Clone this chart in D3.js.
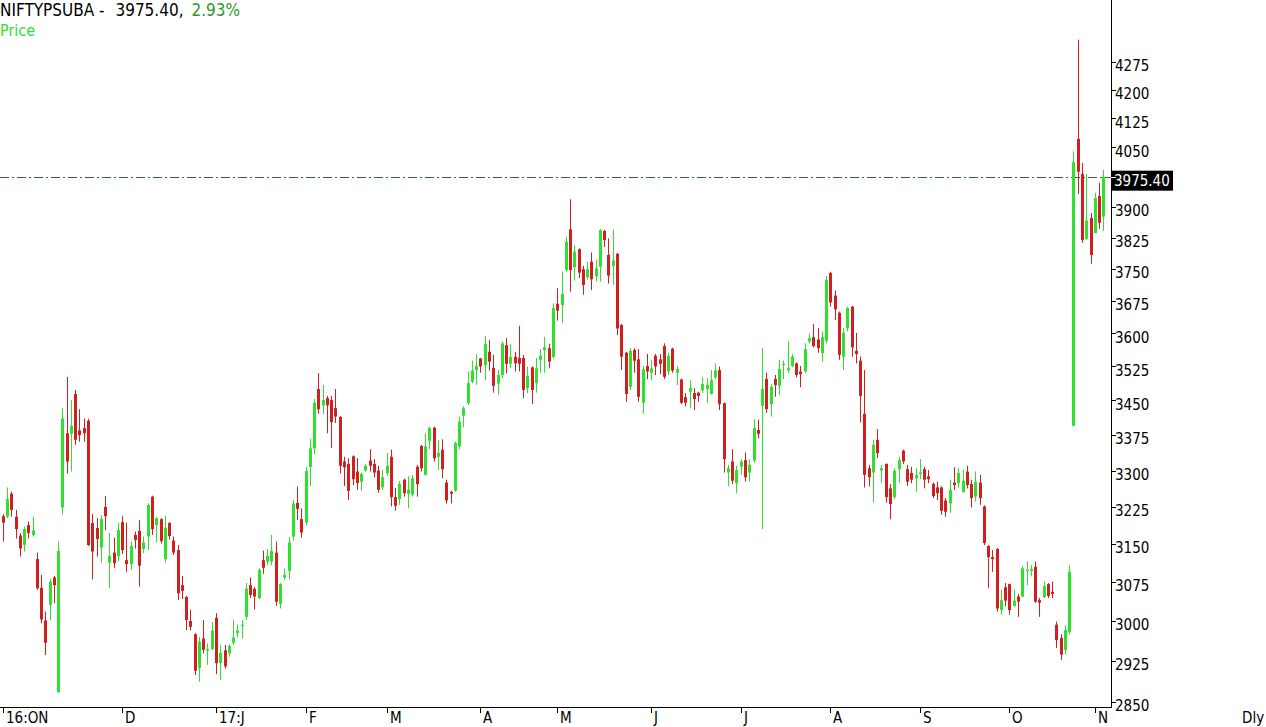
<!DOCTYPE html>
<html>
<head>
<meta charset="utf-8">
<script src="https://cdn.jsdelivr.net/npm/d3@7"></script>
<style>
  body { margin: 0; background: #fff; }
  svg { display: block; }
  text { font-family: "DejaVu Sans Condensed", "DejaVu Sans", sans-serif; }
</style>
</head>
<body>
<svg id="chart" width="1266" height="727"></svg>
<script>
// daily candles, NIFTYPSUBA, 21 Oct 2016 .. 3 Nov 2017
let opens = [3206,3205,3252,3205,3167,3148,3188,3168,3120,3064,3001,3031,3084,2868,3224,3379,3378,3464,3385,3390,
  3406,3192,3182,3143,3225,3113,3133,3126,3194,3118,3110,3168,3176,3140,3165,3246,3188,3200,3120,3192,
  3157,3138,3069,3046,3000,2975,2912,2967,2944,2947,3006,2921,2945,2939,2959,2977,2991,3008,3069,3062,
  3044,3118,3115,3115,3133,3033,3084,3097,3165,3233,3200,3193,3308,3347,3475,3439,3455,3451,3433,3414,
  3319,3314,3330,3298,3277,3300,3321,3314,3300,3265,3295,3329,3245,3241,3281,3252,3250,3308,3352,3291,
  3363,3391,3329,3344,3275,3256,3258,3351,3417,3444,3491,3517,3543,3528,3558,3522,3487,3506,3573,3531,
  3547,3544,3544,3477,3523,3488,3540,3562,3566,3546,3668,3665,3747,3845,3754,3797,3749,3730,3767,3732,
  3755,3841,3783,3757,3786,3619,3556,3480,3562,3541,3445,3526,3511,3549,3541,3571,3514,3565,3511,3496,
  3457,3469,3466,3467,3472,3475,3464,3501,3517,3444,3296,3319,3274,3308,3322,3296,3321,3386,3438,3497,
  3442,3497,3482,3528,3516,3526,3532,3514,3514,3581,3591,3586,3555,3583,3740,3687,3647,3547,3611,3661,
  3560,3538,3421,3305,3296,3365,3300,3314,3263,3245,3303,3342,3303,3295,3284,3293,3303,3288,3272,3265,
  3265,3238,3232,3275,3274,3256,3298,3272,3246,3275,3226,3146,3124,3140,3021,3065,3071,3029,3047,3047,
  3097,3097,3105,3040,3046,3071,3056,2993,2968,2945,2979,3395,4072,3982,3822,3873,3836,3927,3876];

let highs = [3210,3265,3256,3219,3172,3185,3195,3205,3133,3089,3018,3082,3087,3155,3433,3502,3451,3473,3431,3411,
  3410,3211,3202,3208,3247,3172,3163,3193,3206,3193,3155,3175,3198,3165,3232,3248,3204,3202,3207,3194,
  3165,3148,3087,3048,3022,2977,2970,3002,2958,2998,3015,2955,2955,2956,3003,2994,3002,3073,3084,3065,
  3102,3137,3140,3168,3155,3073,3102,3164,3239,3267,3222,3308,3367,3453,3510,3484,3460,3460,3475,3416,
  3329,3326,3332,3326,3296,3314,3345,3324,3310,3301,3337,3344,3264,3278,3283,3288,3291,3312,3354,3379,
  3393,3393,3365,3366,3281,3258,3361,3415,3437,3514,3538,3553,3544,3594,3585,3551,3517,3581,3589,3576,
  3558,3617,3551,3525,3525,3544,3564,3592,3576,3669,3704,3743,3827,3919,3807,3799,3757,3767,3789,3771,
  3845,3843,3823,3844,3788,3621,3558,3566,3566,3564,3526,3553,3540,3553,3553,3577,3556,3567,3526,3498,
  3466,3494,3477,3469,3501,3499,3517,3532,3525,3445,3312,3345,3310,3324,3338,3324,3409,3408,3566,3511,
  3486,3506,3540,3538,3581,3553,3534,3526,3577,3599,3621,3612,3604,3733,3743,3699,3650,3612,3661,3663,
  3601,3547,3517,3312,3365,3388,3312,3315,3272,3305,3329,3344,3312,3308,3305,3324,3308,3301,3275,3277,
  3267,3243,3281,3307,3305,3303,3310,3281,3298,3291,3228,3148,3138,3142,3060,3073,3072,3060,3052,3106,
  3115,3108,3115,3044,3076,3073,3076,2999,2975,2992,3108,4040,4336,4010,3982,3885,3935,3960,3993];

let lows = [3155,3202,3205,3161,3125,3135,3161,3165,3060,2996,2936,3002,3034,2866,3209,3294,3298,3354,3361,3361,
  3146,3080,3125,3113,3178,3064,3102,3116,3130,3095,3099,3141,3066,3132,3138,3168,3153,3151,3113,3159,
  3128,3040,3042,2983,2982,2899,2887,2939,2918,2945,2901,2890,2911,2933,2955,2969,2967,3002,3044,3022,
  3042,3091,3108,3108,3029,3024,3079,3080,3157,3198,3163,3187,3268,3335,3421,3420,3379,3348,3401,3294,
  3268,3239,3270,3260,3258,3298,3298,3286,3254,3260,3289,3226,3217,3229,3246,3222,3246,3246,3298,3290,
  3345,3319,3301,3284,3232,3232,3256,3345,3392,3440,3488,3484,3511,3495,3516,3467,3462,3499,3510,3521,
  3514,3514,3455,3466,3442,3467,3511,3511,3521,3543,3629,3623,3743,3696,3722,3728,3689,3724,3700,3720,
  3720,3802,3715,3712,3596,3517,3447,3473,3511,3447,3421,3497,3494,3506,3508,3497,3506,3511,3484,3442,
  3437,3433,3429,3447,3466,3445,3463,3497,3429,3296,3267,3272,3253,3291,3277,3277,3317,3368,3180,3423,
  3415,3458,3462,3497,3510,3523,3501,3479,3511,3577,3568,3556,3536,3577,3661,3630,3540,3517,3604,3547,
  3532,3402,3265,3267,3234,3326,3274,3234,3200,3241,3274,3314,3268,3274,3256,3282,3263,3274,3243,3239,
  3209,3205,3213,3260,3265,3254,3263,3224,3236,3229,3148,3063,3095,3018,3012,3028,3012,3027,3008,3046,
  3069,3086,3035,3008,3044,3044,3044,2949,2927,2937,2975,3395,3932,3812,3819,3762,3841,3846,3841];

let closes = [3193,3241,3219,3180,3141,3180,3172,3177,3063,3003,2959,3076,3069,3136,3411,3319,3395,3365,3375,3379,
  3148,3135,3160,3200,3206,3126,3112,3178,3138,3110,3146,3158,3107,3153,3229,3180,3202,3156,3183,3166,
  3133,3053,3058,3002,2989,2907,2961,2946,2947,2982,2921,2940,2915,2953,2969,2982,2993,3062,3050,3047,
  3099,3103,3126,3136,3037,3071,3089,3153,3232,3221,3173,3299,3347,3445,3431,3451,3439,3403,3415,3310,
  3307,3258,3282,3274,3293,3310,3310,3296,3260,3286,3310,3245,3227,3272,3253,3260,3284,3272,3305,3351,
  3390,3326,3337,3303,3238,3252,3358,3404,3433,3488,3516,3526,3525,3576,3536,3482,3506,3577,3531,3546,
  3532,3531,3473,3504,3473,3521,3549,3568,3536,3658,3652,3691,3815,3747,3791,3741,3712,3749,3725,3751,
  3843,3819,3734,3770,3611,3547,3464,3560,3538,3458,3519,3514,3521,3525,3531,3502,3549,3516,3519,3445,
  3445,3477,3453,3460,3486,3484,3495,3516,3442,3324,3305,3279,3301,3319,3286,3312,3390,3378,3475,3431,
  3480,3484,3519,3531,3521,3547,3506,3508,3564,3589,3571,3566,3591,3724,3671,3655,3551,3601,3658,3568,
  3553,3460,3291,3286,3354,3337,3305,3245,3231,3300,3322,3319,3277,3281,3291,3296,3281,3282,3247,3253,
  3217,3215,3260,3270,3295,3279,3270,3243,3277,3243,3152,3124,3120,3024,3040,3039,3021,3039,3037,3102,
  3099,3101,3037,3035,3067,3048,3052,2964,2937,2983,3095,4012,3988,3819,3866,3783,3922,3861,3975.4];

// month labels and the candle where each month starts
let monthLabels = ["16:ON", "D", "17:J", "F", "M", "A", "M", "J", "J", "A", "S", "O", "N"];
let monthStarts = [0, 28, 50, 71, 90, 112, 130, 152, 173, 194, 215, 236, 256];

let priceTicks = d3.range(2850, 4276, 75);
let lastPrice = 3975.40;
let lastChange = 2.93;

let green = "#2fe02f";
let red = "#d11f1f";

let svg = d3.select("#chart");
let axisX = 1111;
let baseY = 707;

let data = opens.map((o, i) => ({ o: o, h: highs[i], l: lows[i], c: closes[i] }));

let xScale = d3.scaleBand()
  .domain(d3.range(data.length))
  .range([0.57, 0.57 + data.length * 4.266])
  .paddingInner(0.3)
  .paddingOuter(0.15);

let yScale = d3.scaleLog()
  .domain([2850, 4275])
  .range([702, 62]);

let cx = i => Math.round(xScale(i) + xScale.bandwidth() / 2);

// last price line
svg.append("line")
  .attr("x1", 0).attr("x2", axisX)
  .attr("y1", Math.round(yScale(lastPrice)) + 0.5)
  .attr("y2", Math.round(yScale(lastPrice)) + 0.5)
  .attr("stroke", "#2c6e2c")
  .attr("stroke-dasharray", "9,3,2,3");

// candles
let candles = svg.append("g").selectAll("g").data(data).enter().append("g");

candles.append("line")
  .attr("x1", (d, i) => cx(i) + 0.5)
  .attr("x2", (d, i) => cx(i) + 0.5)
  .attr("y1", d => yScale(d.h))
  .attr("y2", d => yScale(d.l))
  .attr("stroke", d => d.c >= d.o ? green : red)
  .attr("stroke-width", 1);

candles.append("rect")
  .attr("x", (d, i) => cx(i) - 1)
  .attr("width", 3)
  .attr("y", d => yScale(Math.max(d.o, d.c)))
  .attr("height", d => Math.max(1, yScale(Math.min(d.o, d.c)) - yScale(Math.max(d.o, d.c))))
  .attr("fill", d => d.c >= d.o ? green : red);

// right axis
let yAxis = svg.append("g");
yAxis.append("line")
  .attr("x1", axisX + 0.5).attr("x2", axisX + 0.5)
  .attr("y1", 0).attr("y2", baseY + 1)
  .attr("stroke", "#000");

yAxis.selectAll(".tick").data(priceTicks).enter().append("line")
  .attr("x1", axisX).attr("x2", axisX + 5)
  .attr("y1", d => Math.round(yScale(d)) + 0.5)
  .attr("y2", d => Math.round(yScale(d)) + 0.5)
  .attr("stroke", "#000");

// the label next to the last price is covered by the price box
let boxY = yScale(lastPrice);
yAxis.selectAll("text")
  .data(priceTicks.filter(d => Math.abs(yScale(d) - boxY) > 14))
  .enter().append("text")
  .attr("x", axisX + 4)
  .attr("y", d => yScale(d) + 4)
  .attr("dy", "0.35em")
  .attr("font-size", 15)
  .attr("fill", "#000")
  .text(d => d);

// last price box
svg.append("rect")
  .attr("x", axisX + 1).attr("y", boxY - 6)
  .attr("width", 61).attr("height", 20)
  .attr("fill", "#000");
svg.append("line")
  .attr("x1", axisX).attr("x2", axisX + 5)
  .attr("y1", Math.round(boxY) + 0.5).attr("y2", Math.round(boxY) + 0.5)
  .attr("stroke", "#fff");
svg.append("text")
  .attr("x", axisX + 3)
  .attr("y", boxY + 4)
  .attr("dy", "0.35em")
  .attr("font-size", 15)
  .attr("fill", "#fff")
  .text(lastPrice.toFixed(2));

// bottom axis
let xAxis = svg.append("g");
xAxis.append("line")
  .attr("x1", 0).attr("x2", axisX + 1)
  .attr("y1", baseY + 0.5).attr("y2", baseY + 0.5)
  .attr("stroke", "#000");

xAxis.selectAll(".mt").data(monthStarts).enter().append("line")
  .attr("x1", d => cx(d) + 0.5)
  .attr("x2", d => cx(d) + 0.5)
  .attr("y1", baseY).attr("y2", baseY + 6)
  .attr("stroke", "#000");

xAxis.selectAll("text").data(monthStarts).enter().append("text")
  .attr("x", d => cx(d) + 3)
  .attr("y", 723)
  .attr("font-size", 15)
  .attr("fill", "#000")
  .text((d, i) => monthLabels[i]);

svg.append("text")
  .attr("x", 1242).attr("y", 723)
  .attr("font-size", 15)
  .text("Dly");

// header
let header = svg.append("text").attr("x", 0).attr("y", 16).attr("font-size", 17);
header.append("tspan").attr("fill", "#000").text("NIFTYPSUBA - ");
header.append("tspan").attr("fill", "#000").attr("dx", 6).text(lastPrice.toFixed(2) + ",");
header.append("tspan").attr("fill", "#2e9a2e").attr("dx", 8).text(lastChange.toFixed(2) + "%");

svg.append("text")
  .attr("x", 0).attr("y", 36)
  .attr("font-size", 16)
  .attr("fill", "#33dd33")
  .text("Price");
</script>
</body>
</html>
